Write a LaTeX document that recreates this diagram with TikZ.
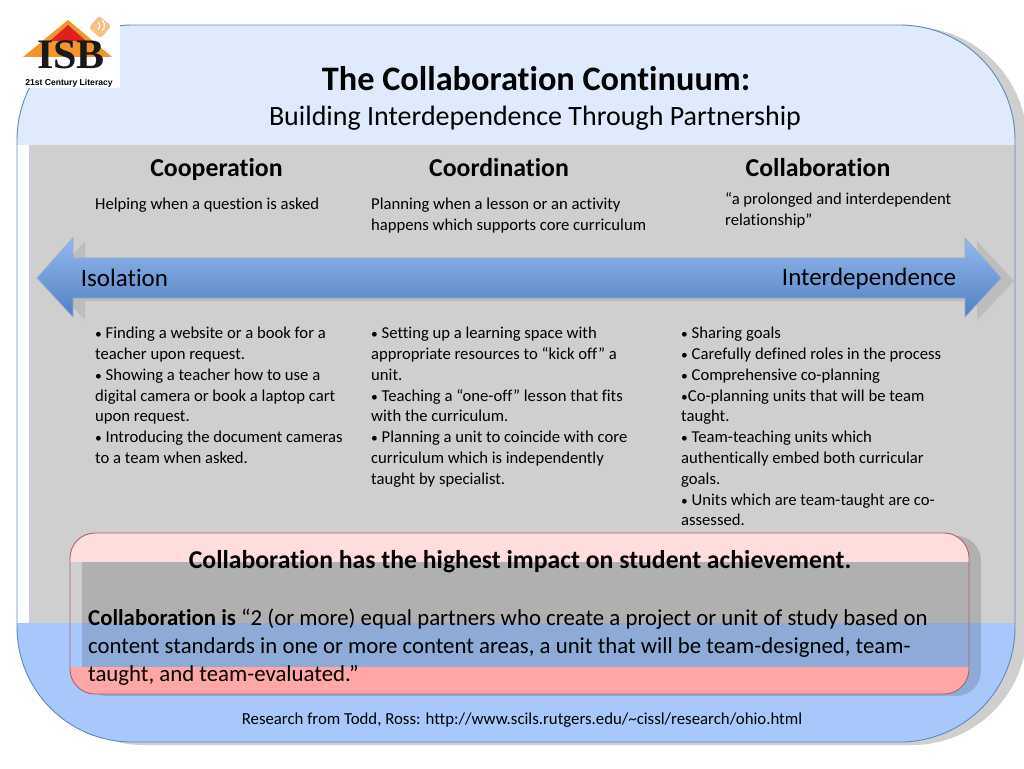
\documentclass[tikz,border=0pt]{standalone}
\usepackage{fontspec}
\setmainfont{Carlito}[Ligatures=NoCommon]
\newfontfamily\logoserif{Liberation Serif}
\newfontfamily\logosans{Liberation Sans}
\definecolor{topblue}{HTML}{DFEBFC}
\definecolor{lowblue}{HTML}{A8C8FC}
\definecolor{edgeblue}{HTML}{5F88BC}
\definecolor{shadowgray}{HTML}{CFCFCF}
\definecolor{arrowshadow}{HTML}{BDBDBD}
\definecolor{toppink}{HTML}{FFDDDD}
\definecolor{lowpink}{HTML}{FFA6A6}
\definecolor{edgered}{HTML}{B0606A}
\definecolor{arrowtop}{HTML}{94B9F0}
\definecolor{arrowlow}{HTML}{5080C0}
\definecolor{logoorange}{HTML}{F0962A}
\definecolor{logobadge}{HTML}{F6C080}
\definecolor{logored}{HTML}{E0201C}
\newcommand{\smalldot}{{\fontsize{13.5}{20.8}\selectfont •}}
\tikzset{
  heading/.style={font=\fontsize{25.8}{28}\selectfont\bfseries, inner sep=0pt, anchor=base},
  bodytext/.style={font=\fontsize{16.65}{20.8}\selectfont, align=left, anchor=north west, inner sep=0pt},
  bigtext/.style={font=\fontsize{22.8}{28}\selectfont, align=left, anchor=north west, inner sep=0pt},
  arrowlabel/.style={font=\fontsize{25}{28}\selectfont, inner sep=0pt, anchor=base}
}
\begin{document}
\begin{tikzpicture}[x=1pt,y=-1pt]
		\useasboundingbox (0,0) rectangle (1024,768);
		\clip (0,0) rectangle (1024,768);
		\fill [white] (0,0) rectangle (1024,768);
		
		% big panel
		\fill [shadowgray, rounded corners=115] (29,27) rectangle (1027,745);
		\begin{scope}
		\clip [rounded corners=115] (17,25) rectangle (1015,742);
		\fill [topblue] (17,25) rectangle (1015,145);
		\fill [lowblue] (17,623) rectangle (1015,742);
		\end{scope}
		\draw [edgeblue, line width=0.9, rounded corners=115] (17,25) rectangle (1015,742);
		
		% logo
		\fill [white] (18,18) rectangle (120,88);
		\fill [logoorange] (68,20) -- (112,57) -- (23,57) -- cycle;
		\fill [logored] (68,25) -- (86,41) -- (50,41) -- cycle;
		\fill [logobadge, rounded corners=3, rotate around={-40:(100,27)}] (92,19) rectangle (108,35);
		\draw [white, line width=1.2] (98,22) arc (-50:50:5 and 5);
		\draw [white, line width=1.2] (102,20) arc (-50:50:7 and 7);
		\node [font=\fontsize{42}{42}\selectfont\logoserif\bfseries, text=black!90, inner sep=0pt, anchor=base] (logoname) at (71,68) {ISB};
		\node [font=\fontsize{8.6}{9}\selectfont\logosans\bfseries, inner sep=0pt, anchor=base] (logotext) at (69,85) {21st Century Literacy};
		
		% title
		\node [font=\fontsize{34.3}{38}\selectfont\bfseries, inner sep=0pt, anchor=base] (title) at (536,90) {The Collaboration Continuum:};
		\node [font=\fontsize{28}{32}\selectfont, inner sep=0pt, anchor=base] (subtitle) at (535,125) {Building Interdependence Through Partnership};
		
		% columns
		\node [heading] (cooperation) at (216.5,176) {Cooperation};
		\node [heading] (coordination) at (499,176) {Coordination};
		\node [heading] (collaboration) at (818,176) {Collaboration};
		\node [bodytext] (helping) at (95,198) {Helping when a question is asked};
		\node [bodytext] (planning) at (371,198) {Planning when a lesson or an activity\\happens which supports core curriculum};
		\node [bodytext] (prolonged) at (725,192) {“a prolonged and interdependent\\relationship”};
		
		% arrow
		\fill [arrowshadow] (49,281) -- (85,241) -- (85,261) -- (977,261) -- (977,241) -- (1014,281) -- (977,320) -- (977,301) -- (85,301) -- (85,320) -- cycle;
		\draw [edgeblue!70, top color=arrowtop, bottom color=arrowlow, line width=0.7] (37,278) -- (73,238) -- (73,258) -- (965,258) -- (965,238) -- (1001,278) -- (965,317) -- (965,298) -- (73,298) -- (73,317) -- cycle;
		\node [arrowlabel] (isolation) at (124.5,286) {Isolation};
		\node [arrowlabel] (interdependence) at (869,285) {Interdependence};
		
		% lists
		\node [bodytext] (coopitems) at (95,327) {\smalldot{} Finding a website or a book for a\\teacher upon request.\\\smalldot{} Showing a teacher how to use a\\digital camera or book a laptop cart\\upon request.\\\smalldot{} Introducing the document cameras\\to a team when asked.};
		\node [bodytext] (coorditems) at (371,327) {\smalldot{} Setting up a learning space with\\appropriate resources to “kick off” a\\unit.\\\smalldot{} Teaching a “one-off” lesson that fits\\with the curriculum.\\\smalldot{} Planning a unit to coincide with core\\curriculum which is independently\\taught by specialist.};
		\node [bodytext] (collabitems) at (681,327) {\smalldot{} Sharing goals\\\smalldot{} Carefully defined roles in the process\\\smalldot{} Comprehensive co-planning\\\smalldot{}Co-planning units that will be team\\taught.\\\smalldot{} Team-teaching units which\\authentically embed both curricular\\goals.\\\smalldot{} Units which are team-taught are co-\\assessed.};
		
		% pink box
		\fill [black, opacity=0.15, rounded corners=25] (82,536) rectangle (981,696);
		\begin{scope}
		\clip [rounded corners=25] (70,533) rectangle (969,694);
		\fill [toppink] (70,533) rectangle (969,562);
		\fill [lowpink] (70,667) rectangle (969,694);
		\end{scope}
		\draw [edgered, line width=0.9, rounded corners=25] (70,533) rectangle (969,694);
		\node [font=\fontsize{25.7}{28}\selectfont\bfseries, inner sep=0pt, anchor=base] (impact) at (520,568) {Collaboration has the highest impact on student achievement.};
		\node [bigtext] (definition) at (88,609) {\textbf{Collaboration is} “2 (or more) equal partners who create a project or unit of study based on\\content standards in one or more content areas, a unit that will be team-designed, team-\\taught, and team-evaluated.”};
		
		\node [font=\fontsize{16.8}{21}\selectfont, inner sep=0pt, anchor=base] (research) at (522,724) {Research from Todd, Ross: http://www.scils.rutgers.edu/\textasciitilde cissl/research/ohio.html};
		\end{tikzpicture}
\end{document}
